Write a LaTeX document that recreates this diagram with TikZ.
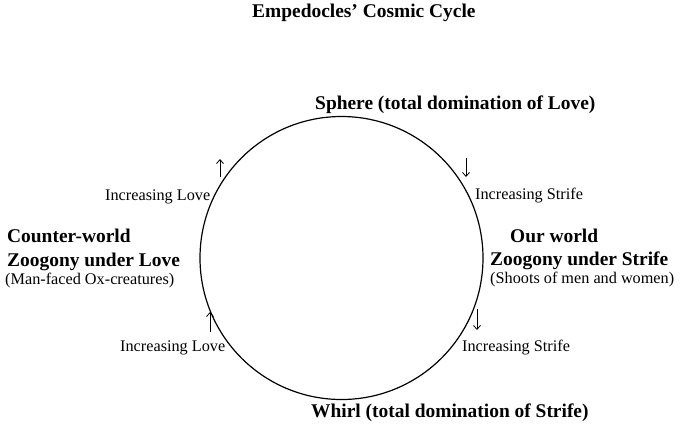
\documentclass[tikz,border=0pt]{standalone}
\usepackage{fontspec}
\setmainfont{Liberation Serif}
\usetikzlibrary{arrows.meta}
\tikzset{
  head/.style={font=\fontsize{19.5}{22}\selectfont\bfseries, inner sep=0pt, anchor=base west},
  lab/.style={font=\fontsize{16.3}{19}\selectfont, inner sep=0pt, anchor=base west},
  dirarrow/.style={line width=0.8bp, -{Straight Barb[length=4bp,width=7bp,line width=0.8bp]}},
  cyclecircle/.style={draw, circle, minimum size=283bp, inner sep=0pt, line width=1.2bp}
}
\begin{document}
\begin{tikzpicture}[x=1bp,y=-1bp]
\useasboundingbox (0,0) rectangle (685,426);
\node[cyclecircle] (cyc) at (341.5,258) {};
\node[head] (title) at (252,17.3) {Empedocles’ Cosmic Cycle};
\node[head] (sphere) at (315,109.3) {Sphere (total domination of Love)};
\node[head] (whirl) at (311,417) {Whirl (total domination of Strife)};
% left
\node[head] (cw) at (7,242) {Counter-world};
\node[head] (zl) at (7,266.7) {Zoogony under Love};
\node[lab] (mf) at (5,284) {(Man-faced Ox-creatures)};
% right
\node[head] (ow) at (510,242) {Our world};
\node[head] (zs) at (490,265.5) {Zoogony under Strife};
\node[lab] (sm) at (490,283) {(Shoots of men and women)};
% increasing labels
\node[lab] (il1) at (105,200) {Increasing Love};
\node[lab] (il2) at (120,351.7) {Increasing Love};
\node[lab] (is1) at (475,199) {Increasing Strife};
\node[lab] (is2) at (462,351.7) {Increasing Strife};
% arrows
\coordinate (a1s) at (220,177); \coordinate (a1e) at (220,159);
\coordinate (a2s) at (210,332); \coordinate (a2e) at (210,312);
\coordinate (a3s) at (466,158); \coordinate (a3e) at (466,177);
\coordinate (a4s) at (477,309); \coordinate (a4e) at (477,330);
\draw[dirarrow] (a1s) -- (a1e);
\draw[dirarrow] (a2s) -- (a2e);
\draw[dirarrow] (a3s) -- (a3e);
\draw[dirarrow] (a4s) -- (a4e);
\end{tikzpicture}
\end{document}
